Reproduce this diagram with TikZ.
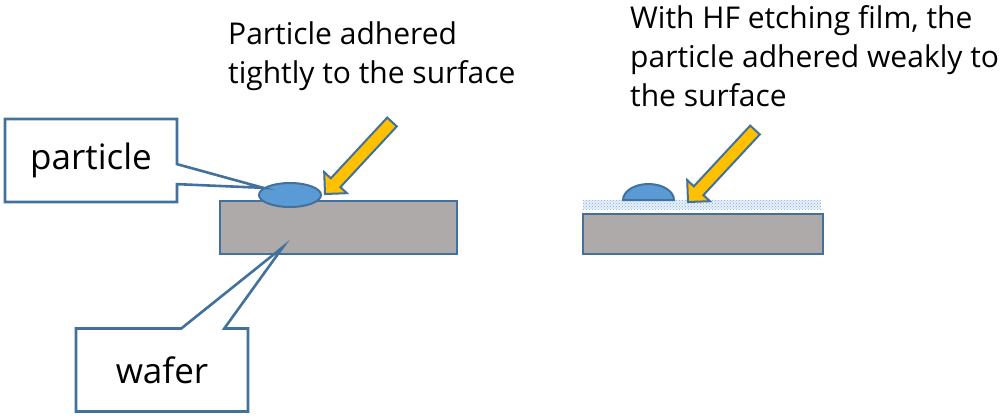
\documentclass[tikz,border=0pt]{standalone}
\usepackage{fontspec}
\setmainfont{Open Sans}
\usepackage{tikz}
\usetikzlibrary{shapes.geometric,shapes.callouts,patterns}

\definecolor{edgeblue}{HTML}{41719C}
\definecolor{partblue}{HTML}{5B9BD5}
\definecolor{wafergray}{HTML}{AEAAAA}
\definecolor{arrowyellow}{HTML}{FFC000}
\definecolor{filmblue}{HTML}{7FAEDC}

\begin{document}
\begin{tikzpicture}[x=1pt,y=-1pt,
    waferbox/.style={rectangle,draw=edgeblue,fill=wafergray,line width=2.6pt,inner sep=0pt},
    partbox/.style={draw=edgeblue,fill=partblue,line width=2pt,inner sep=0pt},
    tagbox/.style={rectangle callout,draw=edgeblue,fill=white,line width=2.6pt,
        minimum width=172pt,minimum height=83pt,font=\fontsize{35}{40}\selectfont},
    notetext/.style={anchor=north west,inner sep=0pt,align=left,font=\fontsize{30}{39}\selectfont},
    hfarrow/.style={draw=edgeblue,fill=arrowyellow,line width=2pt,line join=miter}]
    \useasboundingbox (0,0) rectangle (1000,418);
    % captions
    \node[notetext] (tl) at (228,22) {Particle adhered\\tightly to the surface};
    \node[notetext] (tr) at (630,5) {With HF etching film, the\\particle adhered weakly to\\the surface};
    % left: bare wafer
    \node[waferbox,minimum width=237pt,minimum height=53pt] (w1) at (338.5,227.5) {};
    \node[partbox,ellipse,minimum width=62pt,minimum height=24pt] (p1) at (290,195) {};
    % right: wafer with HF film
    \node[waferbox,minimum width=240pt,minimum height=40pt] (w2) at (703,234) {};
    \node[rectangle,inner sep=0pt,fill=filmblue!18,postaction={pattern=crosshatch dots,pattern color=filmblue},
        minimum width=238pt,minimum height=9pt] (f2) at (702,204.5) {};
    \draw[partbox] (623,200) arc[start angle=180,end angle=360,x radius=25.5,y radius=16] -- cycle;
    % callouts
    \coordinate (wp) at (283,247);
    \node[tagbox,callout absolute pointer={(p1.165)},callout pointer width=20pt] (cp) at (91,160.5) {particle};
    \node[tagbox,callout absolute pointer={(wp)},callout pointer width=43pt] (cw) at (162,370) {wafer};
    % light arrows
    \foreach \s in {(0,0),(363,8)}
        \draw[hfarrow,shift={\s}] (396.8,126.4) -- (340.4,187.1) -- (346.9,193.2) -- (325,194)
            -- (324.2,172.1) -- (330.8,178.3) -- (387.2,117.6) -- cycle;
\end{tikzpicture}
\end{document}
